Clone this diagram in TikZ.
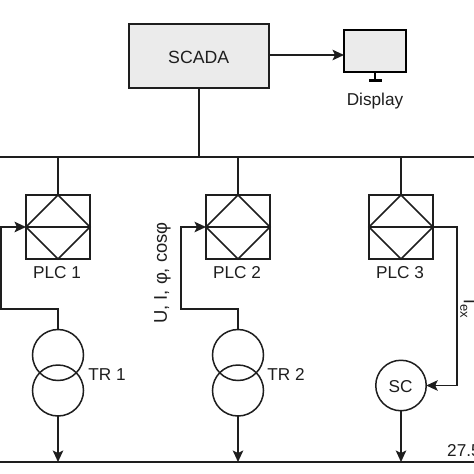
\documentclass[tikz,border=0pt]{standalone}
\usepackage{fontspec}
\setmainfont{Liberation Sans}
\usetikzlibrary{arrows.meta,calc}
\definecolor{ink}{HTML}{1E1E1E}
\definecolor{panel}{HTML}{EBEBEB}
\tikzset{
  wire/.style={draw=ink,line width=1.5pt},
  arrowwire/.style={wire,-{Stealth[length=11.5pt,width=10.5pt,inset=2.5pt]}},
  plcbox/.style={draw=ink,line width=1.5pt,minimum width=64pt,minimum height=64pt,inner sep=0pt,outer sep=0pt},
  coil/.style={draw=ink,line width=1.5pt,circle,minimum size=51pt,inner sep=0pt,outer sep=0pt},
  lbl/.style={font=\fontsize{17.2}{18}\selectfont,text=ink,inner sep=0pt}
}
\newcommand{\plcmark}[1]{%
  \draw[wire,line join=miter] (#1.north)--(#1.east)--(#1.south)--(#1.west)--cycle;
  \draw[wire] (#1.west)--(#1.east);
}
\begin{document}
\begin{tikzpicture}[x=1pt,y=-1pt]
\useasboundingbox (0,0) rectangle (474,474);
\clip (0,0) rectangle (474,474);
\fill[white] (0,0) rectangle (474,474);
% bus ends
\coordinate (busL) at (-2,157); \coordinate (busR) at (476,157);
\coordinate (lowL) at (-2,462); \coordinate (lowR) at (476,462);
\draw[wire] (busL)--(busR);
\draw[wire] (lowL)--(lowR);
% SCADA and display
\node[draw=ink,fill=panel,line width=1.5pt,minimum width=140pt,minimum height=64pt,inner sep=0pt,outer sep=0pt] (scada) at (199,56) {};
\node[lbl,font=\fontsize{17.7}{18}\selectfont] (scadat) at (198.7,57) {SCADA};
\node[draw=black,fill=panel,line width=2.6pt,minimum width=62pt,minimum height=42pt,inner sep=0pt,outer sep=0pt] (disp) at (375,51) {};
\coordinate (stand) at (375,80.5);
\coordinate (baseL) at (369,80.5); \coordinate (baseR) at (382,80.5);
\draw[draw=black,line width=2.2pt] (disp.south)--(stand);
\draw[draw=black,line width=2.2pt] (baseL)--(baseR);
\node[lbl] (displayt) at (375,101.5) {Display};
\draw[arrowwire] (scada.east |- 0,55) -- (disp.west |- 0,55);
\draw[wire] (scada.south)--(scada.south |- busL);
% PLCs
\node[plcbox] (p1) at (58,227) {};
\node[plcbox] (p2) at (238,227) {};
\node[plcbox] (p3) at (401,227) {};
\plcmark{p1}\plcmark{p2}\plcmark{p3}
\foreach \p in {p1,p2,p3}{\draw[wire] (\p.north)--(\p.north |- busL);}
\node[lbl] (pl1) at (57,272.5) {PLC 1};
\node[lbl] (pl2) at (237,272.5) {PLC 2};
\node[lbl] (pl3) at (400,272.5) {PLC 3};
% transformers
\node[coil] (t1a) at (58,355) {};
\node[coil] (t1b) at (58,390.5) {};
\node[coil] (t2a) at (238,355) {};
\node[coil] (t2b) at (238,390.5) {};
\node[lbl] (t1l) at (107,374.5) {TR 1};
\node[lbl] (t2l) at (286,374.5) {TR 2};
\node[coil,minimum size=50.5pt] (sc) at (401,385.5) {};
\node[lbl] (scl) at (400.5,387) {SC};
% measurement feeds
\coordinate (c1) at (1,309); \coordinate (c2) at (181,309); \coordinate (c3) at (457,227);
\draw[arrowwire,line width=2pt] (t1a.north) -- (t1a.north |- c1) -- (c1) -- (c1 |- p1.west) -- (p1.west);
\draw[arrowwire] (t2a.north) -- (t2a.north |- c2) -- (c2) -- (c2 |- p2.west) -- (p2.west);
\draw[arrowwire] (p3.east) -- (c3) -- (c3 |- sc.east) -- (sc.east);
% outputs
\draw[arrowwire] (t1b.south) -- (t1b.south |- lowL);
\draw[arrowwire] (t2b.south) -- (t2b.south |- lowL);
\draw[arrowwire] (sc.south) -- (sc.south |- lowL);
% labels
\node[lbl,rotate=90,font=\fontsize{18.4}{19}\selectfont] (meas) at (162.5,273) {U, I, φ, cosφ};
\node[lbl,rotate=-90,anchor=north west] (iex) at (476,299.5) {I\raisebox{-3.5pt}{\fontsize{13}{14}\selectfont ex}};
\node[lbl,anchor=base west] (kv) at (447,456) {27.5};
\end{tikzpicture}
\end{document}
